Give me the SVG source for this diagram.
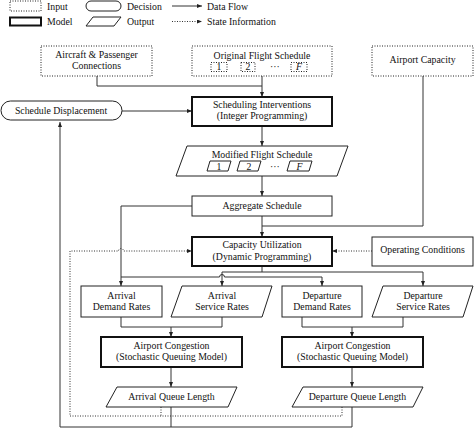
<svg xmlns="http://www.w3.org/2000/svg" width="474" height="440" viewBox="0 0 474 440">
<style>
.t{font-family:"Liberation Serif","DejaVu Serif",serif;font-size:9.8px;fill:#111;text-anchor:middle}
.tl{text-anchor:start}
.it{font-style:italic}
.in{fill:#fff;stroke:#222;stroke-width:1;stroke-dasharray:1 1.5}
.mo{fill:#fff;stroke:#111;stroke-width:2}
.pl{fill:#fff;stroke:#222;stroke-width:1}
.c{fill:none;stroke:#333;stroke-width:1}
.d{fill:none;stroke:#333;stroke-width:1;stroke-dasharray:1 1.5}
</style>
<defs>
<marker id="ah" markerUnits="userSpaceOnUse" markerWidth="5" markerHeight="4" refX="5" refY="2" orient="auto">
<path d="M0,0 L5,2 L0,4 z" fill="#222"/>
</marker>
</defs>
<rect width="474" height="440" fill="#fff"/>
<g id="legend">
<rect class="in" x="10" y="1" width="31" height="10"/>
<text class="t tl" x="47" y="9.5">Input</text>
<rect class="mo" x="10" y="17.5" width="31" height="8"/>
<text class="t tl" x="47" y="25">Model</text>
<rect class="pl" x="86" y="1" width="35" height="10" rx="5"/>
<text class="t tl" x="127" y="9.5">Decision</text>
<polygon class="pl" points="93,17 121,17 114,26 86,26"/>
<text class="t tl" x="127" y="25">Output</text>
<line class="c" x1="172" y1="6" x2="202" y2="6" marker-end="url(#ah)"/>
<text class="t tl" x="207" y="9.5">Data Flow</text>
<line class="d" x1="172" y1="21.5" x2="202" y2="21.5" marker-end="url(#ah)"/>
<text class="t tl" x="207" y="25">State Information</text>
</g>
<g id="connectors">
<path class="c" d="M97,76 V86 H262"/>
<path class="c" d="M262,76 V97" marker-end="url(#ah)"/>
<path class="c" d="M122,111 H192" marker-end="url(#ah)"/>
<path class="c" d="M262,126 V146" marker-end="url(#ah)"/>
<path class="c" d="M262,176 V196" marker-end="url(#ah)"/>
<path class="c" d="M262,216 V237" marker-end="url(#ah)"/>
<path class="c" d="M423,76 V226 H262"/>
<path class="c" d="M192,206 H121 V286" marker-end="url(#ah)"/>
<path class="c" d="M121,277 H219.5 A2.5,2.5 0 0 1 224.5,277 H322 V286" marker-end="url(#ah)"/>
<path class="c" d="M262,266 V272"/>
<path class="c" d="M262,272 H222 V286" marker-end="url(#ah)"/>
<path class="c" d="M262,272 H423 V286" marker-end="url(#ah)"/>
<path class="c" d="M121,317 V327 H222 V317"/>
<path class="c" d="M171,327 V337" marker-end="url(#ah)"/>
<path class="c" d="M302,317 V327 H403 V317"/>
<path class="c" d="M352,327 V337" marker-end="url(#ah)"/>
<path class="c" d="M171,367 V387" marker-end="url(#ah)"/>
<path class="c" d="M352,367 V387" marker-end="url(#ah)"/>
<path class="d" d="M161,407 V416"/>
<path class="d" d="M342,407 V416 H70 V251 H118.5 A2.5,2.5 0 0 1 123.5,251 H192" marker-end="url(#ah)"/>
<path class="d" d="M372,251 H332" marker-end="url(#ah)"/>
<path class="c" d="M171,407 V427"/>
<path class="c" d="M352,407 V427 H60 V122" marker-end="url(#ah)"/>
</g>
<g id="aircraft">
<rect class="in" x="41" y="46" width="111" height="30"/>
<text class="t" x="96.5" y="57.5">Aircraft &amp; Passenger</text>
<text class="t" x="96.5" y="68.5">Connections</text>
</g>
<g id="original">
<rect class="in" x="192" y="46" width="140" height="30"/>
<text class="t" x="262" y="58.5">Original Flight Schedule</text>
<rect class="in" x="211" y="62.5" width="16" height="9"/>
<text class="t" x="219" y="70">1</text>
<rect class="in" x="241" y="62.5" width="14" height="9"/>
<text class="t" x="248" y="70">2</text>
<text class="t" x="275" y="70">···</text>
<rect class="in" x="291" y="62.5" width="16" height="9"/>
<text class="t it" x="299" y="70">F</text>
</g>
<g id="capacity">
<rect class="in" x="372" y="46" width="101" height="30"/>
<text class="t" x="422.5" y="63">Airport Capacity</text>
</g>
<g id="displacement">
<rect class="pl" x="1" y="101" width="121" height="19" rx="9.5"/>
<text class="t" x="61" y="113.5">Schedule Displacement</text>
</g>
<g id="interventions">
<rect class="mo" x="192" y="97" width="140" height="29"/>
<text class="t" x="262" y="107.5">Scheduling Interventions</text>
<text class="t" x="262" y="119">(Integer Programming)</text>
</g>
<g id="modified">
<polygon class="pl" points="187,146 348,146 337,176 176,176"/>
<text class="t" x="262" y="157.5">Modified Flight Schedule</text>
<polygon class="pl" points="210,161 231,161 228,171 207,171"/>
<text class="t" x="219" y="169.5">1</text>
<polygon class="pl" points="240,161 261,161 258,171 237,171"/>
<text class="t" x="249" y="169.5">2</text>
<text class="t" x="275" y="169.5">···</text>
<polygon class="pl" points="290,161 312,161 309,171 287,171"/>
<text class="t it" x="299.5" y="169.5">F</text>
</g>
<g id="aggregate">
<rect class="pl" x="192" y="196" width="140" height="20"/>
<text class="t" x="262" y="209">Aggregate Schedule</text>
</g>
<g id="utilization">
<rect class="mo" x="192" y="237" width="140" height="29"/>
<text class="t" x="262" y="247.8">Capacity Utilization</text>
<text class="t" x="262" y="259.5">(Dynamic Programming)</text>
</g>
<g id="operating">
<rect class="pl" x="372" y="237" width="101" height="29" stroke="#666"/>
<text class="t" x="422.5" y="253">Operating Conditions</text>
</g>
<g id="arr-demand">
<rect class="pl" x="81" y="286" width="81" height="31"/>
<text class="t" x="121.5" y="298.5">Arrival</text>
<text class="t" x="121.5" y="309.5">Demand Rates</text>
</g>
<g id="arr-service">
<polygon class="pl" points="182,286 272,286 262,317 171,317"/>
<text class="t" x="222" y="298.5">Arrival</text>
<text class="t" x="222" y="309.5">Service Rates</text>
</g>
<g id="dep-demand">
<rect class="pl" x="282" y="286" width="80" height="31"/>
<text class="t" x="322" y="298.5">Departure</text>
<text class="t" x="322" y="309.5">Demand Rates</text>
</g>
<g id="dep-service">
<polygon class="pl" points="383,286 473,286 463,317 372,317"/>
<text class="t" x="423" y="298.5">Departure</text>
<text class="t" x="423" y="309.5">Service Rates</text>
</g>
<g id="arr-congestion">
<rect class="mo" x="101" y="337" width="141" height="30"/>
<text class="t" x="171.5" y="348.5">Airport Congestion</text>
<text class="t" x="171.5" y="360">(Stochastic Queuing Model)</text>
</g>
<g id="dep-congestion">
<rect class="mo" x="282" y="337" width="141" height="30"/>
<text class="t" x="352.5" y="348.5">Airport Congestion</text>
<text class="t" x="352.5" y="360">(Stochastic Queuing Model)</text>
</g>
<g id="arr-queue">
<polygon class="pl" points="117,387 237,387 228,407 106,407"/>
<text class="t" x="171.5" y="399.5">Arrival Queue Length</text>
</g>
<g id="dep-queue">
<polygon class="pl" points="303,387 423,387 413,407 292,407"/>
<text class="t" x="357.5" y="399.5">Departure Queue Length</text>
</g>
</svg>
